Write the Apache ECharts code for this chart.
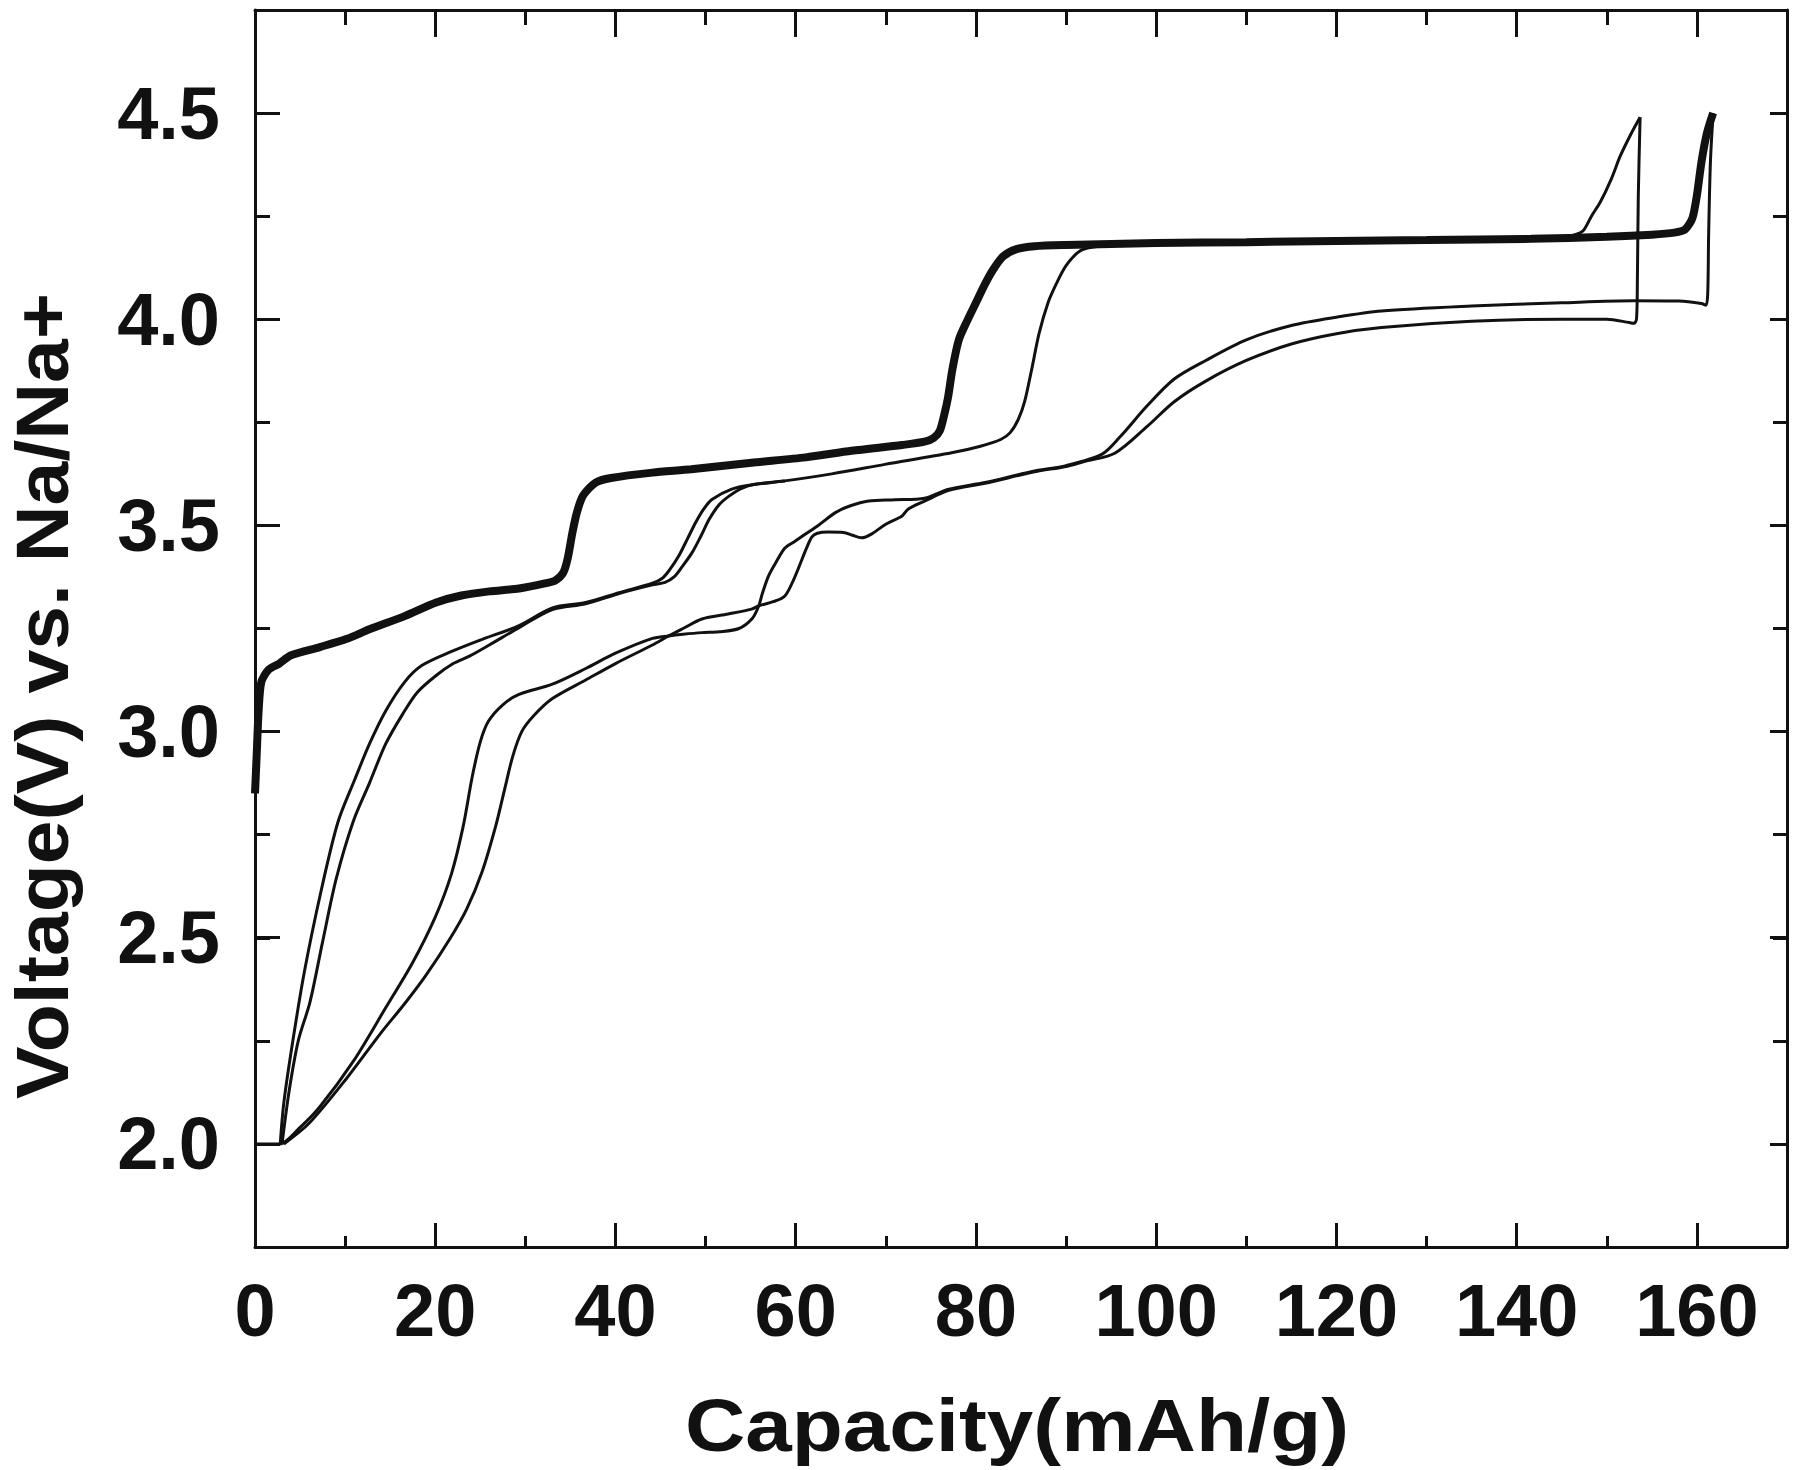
<!DOCTYPE html>
<html>
<head>
<meta charset="utf-8">
<script src="https://cdn.jsdelivr.net/npm/echarts@6/dist/echarts.min.js"></script>
<style>
html,body{margin:0;padding:0;background:#ffffff;}
#chart{width:1800px;height:1470px;}
</style>
</head>
<body>
<div id="chart"></div>
<script>
// ---------------- data ----------------
const xTickLabels = ['0','20','40','60','80','100','120','140','160'];
const yTickLabels = ['2.0','2.5','3.0','3.5','4.0','4.5'];
const xTitle = 'Capacity(mAh/g)';
const yTitle = 'Voltage(V) vs. Na/Na+';

// first charge (thick)
const charge1 = [[0,2.85],[0.2,2.95],[0.4,3.05],[0.7,3.12],[1.5,3.15],[2.7,3.165],[4,3.185],[7.2,3.205],[10.2,3.225],[12.7,3.248],[16.6,3.28],[20.1,3.313],[22.9,3.33],[26,3.34],[29.3,3.347],[32.3,3.36],[33.3,3.366],[34.2,3.385],[34.7,3.42],[35.2,3.48],[35.7,3.53],[36.4,3.572],[37.8,3.604],[39.5,3.615],[44.1,3.628],[48.4,3.636],[55.1,3.652],[61.1,3.665],[66.2,3.681],[71.8,3.695],[74.3,3.703],[75.3,3.712],[76,3.73],[76.5,3.77],[76.9,3.81],[77.4,3.88],[78.1,3.95],[79,3.995],[80,4.04],[81,4.085],[81.9,4.12],[83,4.152],[84.5,4.17],[86.5,4.177],[90,4.18],[100,4.185],[110,4.187],[120,4.19],[130,4.192],[141.6,4.195],[150,4.2],[155,4.205],[157.5,4.21],[158.7,4.218],[159.5,4.245],[160,4.3],[160.5,4.38],[161.1,4.45],[161.8,4.5]];

// first discharge (thin, from 161.8)
const discharge1 = [[161.8,4.5],[161.5,4.38],[161.3,4.2],[161.2,4.06],[161.0,4.034],[160.5,4.038],[158,4.044],[153,4.045],[145,4.04],[135,4.032],[125,4.02],[120,4.005],[115,3.985],[110,3.95],[105.5,3.9],[102,3.855],[99,3.79],[96,3.715],[94,3.673],[90,3.645],[86.5,3.632],[81,3.604],[77,3.588],[74.3,3.566],[71,3.562],[68.1,3.559],[66,3.547],[64.4,3.531],[62.5,3.5],[61,3.478],[59.8,3.46],[58.8,3.445],[57.8,3.41],[57,3.378],[56.3,3.335],[55.9,3.305],[55.2,3.275],[53.7,3.25],[51.5,3.242],[49.6,3.24],[47.5,3.236],[45.9,3.232],[44.1,3.226],[40,3.19],[36.7,3.153],[33,3.115],[29.3,3.09],[27.5,3.065],[25.9,3.025],[25.0,2.975],[24.1,2.89],[23.1,2.77],[21.8,2.655],[20,2.55],[17.5,2.44],[14.5,2.33],[10.9,2.2],[7.2,2.09],[5,2.04],[2.7,2.0],[0,2.0]];

// second charge (thin)
const charge2 = [[2.8,2.0],[3.2,2.1],[4.2,2.25],[5.5,2.42],[7.4,2.62],[9.2,2.78],[11,2.88],[12.7,2.97],[14.5,3.05],[16.6,3.12],[18.5,3.16],[21.9,3.195],[25,3.222],[29.3,3.257],[33,3.3],[36.7,3.313],[40.4,3.337],[44.1,3.36],[45.2,3.372],[46,3.392],[47,3.425],[48,3.468],[48.9,3.507],[49.8,3.54],[50.7,3.563],[52.9,3.588],[55,3.598],[58.8,3.608],[64,3.625],[69.9,3.648],[77.3,3.676],[80.5,3.692],[82.8,3.709],[83.8,3.725],[84.7,3.757],[85.4,3.8],[86.2,3.88],[87,3.965],[88,4.04],[88.9,4.085],[90,4.13],[91.5,4.165],[93,4.175],[96,4.18],[110,4.186],[130,4.19],[140,4.194],[145,4.2],[146.5,4.205],[147.4,4.215],[148.3,4.25],[149.3,4.285],[150.5,4.34],[151.5,4.396],[152.7,4.45],[153.7,4.49]];

// third charge (thin, merges into the second one)
const charge3 = [[3.0,2.0],[3.8,2.13],[4.8,2.25],[6.1,2.344],[7.5,2.49],[9,2.642],[10.9,2.782],[12.7,2.875],[14.5,2.97],[16.4,3.043],[18,3.095],[20.1,3.136],[22,3.165],[23.8,3.183],[26,3.21],[29.3,3.252],[33,3.296],[36.7,3.31],[40.4,3.335],[44.1,3.356],[45.5,3.362],[46.5,3.375],[47.4,3.4],[48.5,3.434],[49.5,3.475],[50.4,3.515],[51.5,3.55],[52.6,3.571],[54,3.59],[55.5,3.6],[58.8,3.608]];

// second discharge (thin, from 153.7)
const discharge2 = [[153.7,4.49],[153.5,4.3],[153.4,4.1],[153.3,4.0],[153.0,3.99],[152.5,3.992],[150,4.0],[145,4.0],[135,3.995],[125,3.98],[120,3.965],[115,3.94],[110,3.9],[105.5,3.85],[102,3.8],[99,3.74],[95.4,3.675],[92,3.655],[90,3.643],[86.5,3.63],[81,3.602],[77,3.585],[74.3,3.559],[72.5,3.54],[71.8,3.523],[70,3.503],[68.4,3.479],[67.3,3.47],[66.3,3.476],[65.3,3.483],[63.6,3.484],[62.4,3.481],[61.8,3.472],[61.2,3.445],[60.7,3.418],[59.8,3.37],[58.8,3.329],[57.5,3.315],[55.9,3.305],[55.1,3.297],[52.5,3.285],[49.6,3.273],[47.5,3.25],[45.9,3.232],[44.1,3.21],[40,3.165],[36.7,3.125],[33,3.08],[31,3.04],[29.6,3.0],[28.6,2.94],[27.7,2.86],[26.7,2.77],[25.2,2.66],[23.5,2.57],[21.7,2.5],[19,2.41],[16.6,2.34],[14,2.27],[10.2,2.16],[6,2.05],[3.2,2.0]];

// ---------------- layout ----------------
const L = 255, R = 1787, T = 10, B = 1247;
const W = R - L, H = B - T;
const XMIN = 0, XMAX = 170, YMIN = 1.75, YMAX = 4.75;
const ppv = H / (YMAX - YMIN);
const ppu = W / (XMAX - XMIN);
const INK = '#111111';
const FONT = '"Liberation Sans", Arial, Helvetica, sans-serif';

const lbl = {fontSize: 74, fontWeight: 'bold', color: INK, fontFamily: FONT};

function frameX(pos, len) {
  return {gridIndex: 0, type: 'value', position: pos, min: XMIN, max: XMAX, interval: 10,
    axisLine: {show: true, onZero: false, lineStyle: {color: INK, width: 3}},
    axisTick: {show: true, inside: true, length: len, lineStyle: {color: INK, width: 3}},
    axisLabel: {show: false}, splitLine: {show: false}};
}
function frameY(pos, len) {
  return {gridIndex: 0, type: 'value', position: pos, min: YMIN, max: YMAX, interval: 0.25,
    axisLine: {show: true, onZero: false, lineStyle: {color: INK, width: 3}},
    axisTick: {show: true, inside: true, length: len, lineStyle: {color: INK, width: 3}},
    axisLabel: {show: false}, splitLine: {show: false}};
}
function majorX(pos, len, labels) {
  return {gridIndex: 2, type: 'value', position: pos, min: 0, max: 160, interval: 20,
    axisLine: {show: false, onZero: false},
    axisTick: {show: true, inside: true, length: len, lineStyle: {color: INK, width: 3}},
    axisLabel: labels ? Object.assign({show: true, margin: 26, showMinLabel: true, showMaxLabel: true,
      formatter: v => { const i = Math.round(v / 20); return (Math.abs(v - i * 20) < 1e-6 && xTickLabels[i]) ? xTickLabels[i] : ''; }}, lbl)
      : {show: false},
    splitLine: {show: false}};
}
function majorY(pos, len, labels) {
  return {gridIndex: 1, type: 'value', position: pos, min: 2, max: 4.5, interval: 0.5,
    axisLine: {show: false, onZero: false},
    axisTick: {show: true, inside: true, length: len, lineStyle: {color: INK, width: 3}},
    axisLabel: labels ? Object.assign({show: true, margin: 35, showMinLabel: true, showMaxLabel: true,
      formatter: v => { const i = Math.round((v - 2) / 0.5); return (Math.abs(v - (2 + i * 0.5)) < 1e-6 && yTickLabels[i]) ? yTickLabels[i] : ''; }}, lbl)
      : {show: false},
    splitLine: {show: false}};
}

function curve(name, data, width, smooth) {
  return {name: name, type: 'line', xAxisIndex: 0, yAxisIndex: 0, data: data,
    symbol: 'none', showSymbol: false, smooth: smooth, clip: true,
    lineStyle: {color: INK, width: width}, z: width > 4 ? 3 : 2};
}

const option = {
  backgroundColor: '#ffffff',
  animation: false,
  grid: [
    {left: L, top: T, width: W, height: H},
    {left: L, top: T + (YMAX - 4.5) * ppv, width: W, height: 2.5 * ppv},
    {left: L, top: T, width: 160 * ppu, height: H}
  ],
  xAxis: [
    frameX('bottom', 11),
    frameX('top', 15),
    {gridIndex: 1, type: 'value', show: false, min: XMIN, max: XMAX},
    majorX('bottom', 24, true),
    majorX('top', 27, false)
  ],
  yAxis: [
    frameY('left', 15),
    frameY('right', 14),
    majorY('left', 25, true),
    majorY('right', 17, false),
    {gridIndex: 2, type: 'value', show: false, min: YMIN, max: YMAX}
  ],
  graphic: [
    {type: 'text', x: 1017, y: 1426, scaleX: 1.13, silent: true,
      style: {text: xTitle, font: 'bold 74px ' + FONT, fill: INK, textAlign: 'center', textVerticalAlign: 'middle'}},
    {type: 'text', x: 42, y: 696, rotation: Math.PI / 2, scaleX: 1.05, silent: true,
      style: {text: yTitle, font: 'bold 75px ' + FONT, fill: INK, textAlign: 'center', textVerticalAlign: 'middle'}}
  ],
  series: [
    curve('charge 1', charge1, 8, 0.25),
    curve('discharge 1', discharge1, 3, 0.3),
    curve('charge 2', charge2, 3, 0.3),
    curve('charge 3', charge3, 3, 0.3),
    curve('discharge 2', discharge2, 3, 0.3)
  ]
};

const chart = echarts.init(document.getElementById('chart'), null, {renderer: 'svg'});
chart.setOption(option);
</script>
</body>
</html>
